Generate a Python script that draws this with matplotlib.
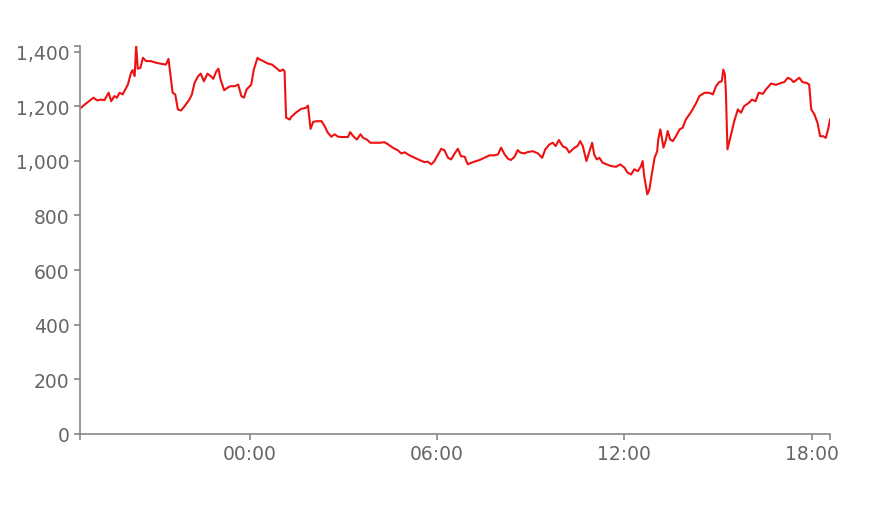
import matplotlib
matplotlib.use('Agg')
import matplotlib.pyplot as plt
import matplotlib.dates as mdates
import matplotlib.ticker as mticker
import pandas as pd

# readings before midnight (day 1)
day1_times = ['18:34', '18:36', '18:43', '18:49', '18:55', '19:00', '19:07', '19:14', '19:21', '19:29',
              '19:34', '19:40', '19:45', '19:50', '19:56', '20:01', '20:06', '20:12', '20:15', '20:19',
              '20:22', '20:25', '20:30', '20:35', '20:41', '20:50', '21:00', '21:10', '21:19', '21:24',
              '21:28', '21:32', '21:37', '21:42', '21:48', '21:55', '22:04', '22:09', '22:14', '22:21',
              '22:26', '22:32', '22:39', '22:45', '22:50', '22:56', '23:00', '23:04', '23:11', '23:17',
              '23:23', '23:31', '23:38', '23:44', '23:49', '23:54']
day1_values = [1195, 1194, 1206, 1215, 1224, 1231, 1221, 1224, 1222, 1249,
               1218, 1237, 1231, 1249, 1243, 1261, 1279, 1322, 1332, 1310,
               1422, 1337, 1340, 1377, 1365, 1365, 1359, 1355, 1352, 1373,
               1310, 1249, 1243, 1188, 1184, 1200, 1224, 1243, 1285, 1310,
               1319, 1291, 1319, 1310, 1300, 1328, 1337, 1298, 1258, 1267,
               1273, 1273, 1279, 1237, 1231, 1261]

# readings after midnight (day 2)
day2_times = ['00:03', '00:08', '00:15', '00:19', '00:26', '00:35', '00:43', '00:51', '00:58', '01:04',
              '01:07', '01:10', '01:17', '01:20', '01:30', '01:39', '01:48', '01:52', '01:57', '02:02',
              '02:08', '02:18', '02:24', '02:30', '02:37', '02:43', '02:50', '02:59', '03:09', '03:13',
              '03:20', '03:26', '03:33', '03:38', '03:45', '03:52', '04:00', '04:10', '04:19', '04:26',
              '04:35', '04:45', '04:51', '04:58', '05:07', '05:17', '05:26', '05:36', '05:42', '05:49',
              '05:55', '06:02', '06:08', '06:14', '06:21', '06:27', '06:34', '06:40', '06:46', '06:53',
              '06:59', '07:06', '07:12', '07:22', '07:31', '07:41', '07:50', '07:57', '08:03', '08:10',
              '08:16', '08:22', '08:29', '08:35', '08:40', '08:48', '08:54', '09:04', '09:14', '09:22',
              '09:28', '09:36', '09:42', '09:48', '09:54', '10:02', '10:08', '10:14', '10:24', '10:30',
              '10:35', '10:40', '10:47', '10:53', '10:58', '11:02', '11:07', '11:12', '11:18', '11:26',
              '11:34', '11:44', '11:52', '12:00', '12:06', '12:13', '12:19', '12:26', '12:32', '12:35',
              '12:38', '12:44', '12:48', '12:52', '12:58', '13:03', '13:05', '13:09', '13:12', '13:15',
              '13:20', '13:23', '13:28', '13:33', '13:39', '13:46', '13:52', '13:58', '14:05', '14:11',
              '14:18', '14:24', '14:34', '14:43', '14:50', '14:56', '15:02', '15:07', '15:10', '15:13',
              '15:15', '15:18', '15:24', '15:31', '15:38', '15:44', '15:50', '15:59', '16:05', '16:12',
              '16:18', '16:26', '16:32', '16:42', '16:51', '17:01', '17:07', '17:14', '17:20', '17:25',
              '17:30', '17:36', '17:42', '17:50', '17:55', '17:59', '18:05', '18:11', '18:16', '18:22',
              '18:27', '18:32', '18:35']
day2_values = [1279, 1334, 1377, 1371, 1365, 1356, 1352, 1340, 1328, 1334,
               1328, 1158, 1151, 1161, 1178, 1190, 1194, 1202, 1117, 1142,
               1145, 1145, 1127, 1103, 1088, 1097, 1088, 1087, 1087, 1105,
               1088, 1078, 1097, 1084, 1078, 1066, 1066, 1066, 1068, 1060,
               1048, 1038, 1027, 1031, 1020, 1011, 1003, 995, 997, 987,
               999, 1023, 1044, 1039, 1011, 1005, 1027, 1044, 1017, 1015,
               987, 993, 997, 1003, 1011, 1020, 1020, 1023, 1048, 1023,
               1008, 1003, 1015, 1039, 1030, 1027, 1032, 1035, 1027, 1011,
               1042, 1060, 1066, 1054, 1076, 1052, 1048, 1030, 1048, 1054,
               1072, 1054, 999, 1035, 1066, 1023, 1005, 1011, 993, 987,
               981, 978, 987, 975, 957, 950, 969, 962, 981, 999,
               944, 877, 895, 944, 1011, 1035, 1078, 1115, 1084, 1048,
               1078, 1109, 1078, 1072, 1090, 1115, 1121, 1151, 1170, 1188,
               1212, 1237, 1249, 1249, 1243, 1273, 1288, 1291, 1334, 1316,
               1249, 1042, 1090, 1145, 1188, 1176, 1200, 1212, 1224, 1218,
               1249, 1245, 1261, 1283, 1278, 1285, 1288, 1304, 1298, 1288,
               1295, 1304, 1288, 1285, 1279, 1188, 1170, 1139, 1090, 1090,
               1084, 1121, 1151]

y_ticks = [0, 200, 400, 600, 800, 1000, 1200, 1400]

times = pd.to_datetime(['2024-03-01 ' + t for t in day1_times] +
                       ['2024-03-02 ' + t for t in day2_times])
values = day1_values + day2_values

fig = plt.figure(figsize=(8.76, 5.10), dpi=100)
ax = fig.add_axes([80/876, 1 - 435/510, 750/876, (435 - 46.5)/510])

ax.plot(times, values, color='#ee1111', lw=1.5)

xmin, xmax = times.min(), times.max()
ymax = max(values)
ax.set_xlim(xmin, xmax)
ax.set_ylim(0, ymax)

ax.xaxis.set_major_locator(mdates.HourLocator(byhour=[0, 6, 12, 18]))
ax.xaxis.set_major_formatter(mdates.DateFormatter('%H:%M'))
ax.set_yticks(y_ticks)
ax.yaxis.set_major_formatter(mticker.FuncFormatter(lambda v, p: f'{int(v):,}'))

# d3-like outer ticks at the ends of the axes
ax.set_xticks([mdates.date2num(xmin), mdates.date2num(xmax)], minor=True)
ax.set_yticks([ymax], minor=True)

for s in ['top', 'right']:
    ax.spines[s].set_visible(False)
for s in ['left', 'bottom']:
    ax.spines[s].set_color('#888888')
    ax.spines[s].set_linewidth(1.2)

ax.tick_params(which='both', length=4.5, width=1.2, color='#888888',
               labelcolor='#666666', labelsize=13.5, pad=3)

plt.savefig('out.png', dpi=100)
